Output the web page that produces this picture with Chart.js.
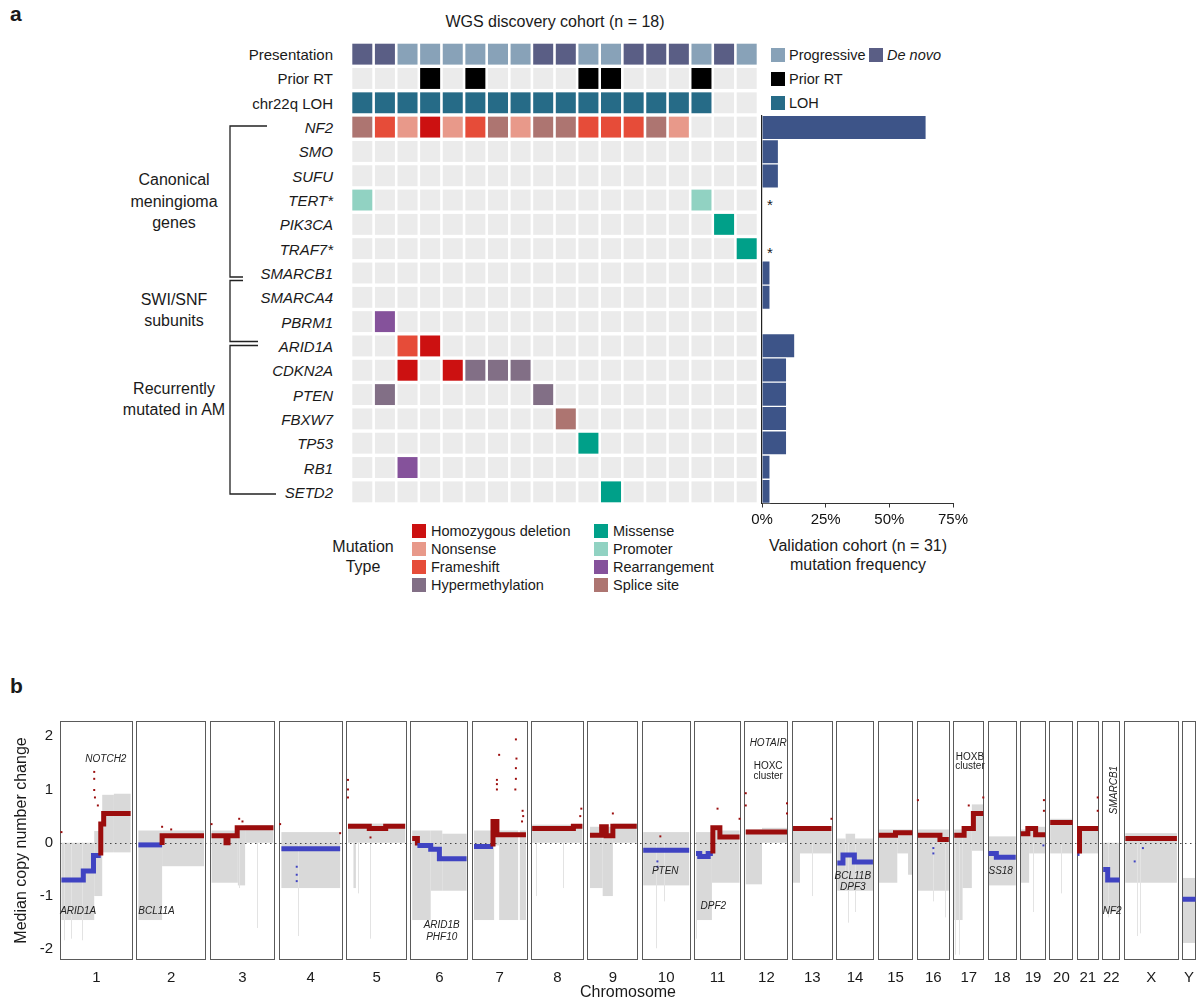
<!DOCTYPE html>
<html>
<head>
<meta charset="utf-8">
<script src="https://cdn.jsdelivr.net/npm/chart.js@4.4.1/dist/chart.umd.min.js"></script>
<style>
  body { margin: 0; background: #fff; font-family: "Liberation Sans", Arial, sans-serif; color: #1a1a1a; }
  #page { position: relative; width: 1200px; height: 998px; overflow: hidden; }
  .t { position: absolute; white-space: nowrap; transform: translate(-50%, -50%); }
  .l { position: absolute; white-space: nowrap; transform: translateY(-50%); }
  .r { position: absolute; white-space: nowrap; transform: translate(-100%, -50%); font-size: 15px; }
  .sw { position: absolute; width: 14px; height: 14px; }
  canvas { position: absolute; }
</style>
</head>
<body>
<div id="page">
  <div class="l" style="left:10px;top:14px;font-size:21px;font-weight:bold">a</div>
  <div class="l" style="left:10px;top:686px;font-size:21px;font-weight:bold">b</div>
  <div class="t" style="left:555px;top:22px;font-size:16px">WGS discovery cohort (n = 18)</div>

  <!-- annotation legend -->
  <div class="sw" style="left:771px;top:48px;background:#88a2b8"></div>
  <div class="l" style="left:789px;top:55px;font-size:14.5px">Progressive</div>
  <div class="sw" style="left:869px;top:48px;background:#5a5e85"></div>
  <div class="l" style="left:887px;top:55px;font-size:14.5px;font-style:italic">De novo</div>
  <div class="sw" style="left:771px;top:72px;background:#000"></div>
  <div class="l" style="left:789px;top:79px;font-size:14.5px">Prior RT</div>
  <div class="sw" style="left:771px;top:96px;background:#266b87"></div>
  <div class="l" style="left:789px;top:103px;font-size:14.5px">LOH</div>

  <!-- gene groups -->
  <div class="t" style="left:174px;top:180px;font-size:16px">Canonical</div>
  <div class="t" style="left:174px;top:202px;font-size:16px">meningioma</div>
  <div class="t" style="left:174px;top:223px;font-size:16px">genes</div>
  <div class="t" style="left:174px;top:300px;font-size:16px">SWI/SNF</div>
  <div class="t" style="left:174px;top:321px;font-size:16px">subunits</div>
  <div class="t" style="left:174px;top:389px;font-size:16px">Recurrently</div>
  <div class="t" style="left:174px;top:410px;font-size:16px">mutated in AM</div>
  <svg style="position:absolute;left:0;top:0" width="400" height="520">
    <polyline points="267,126 230,126 230,277 243,277" fill="none" stroke="#222" stroke-width="1.3"/>
    <polyline points="243,280.5 230,280.5 230,341.5 258,341.5" fill="none" stroke="#222" stroke-width="1.3"/>
    <polyline points="258,345.5 230,345.5 230,494 276,494" fill="none" stroke="#222" stroke-width="1.3"/>
  </svg>
  <div id="rowNames"></div>

  <!-- mutation legend -->
  <div class="t" style="left:363px;top:547px;font-size:16px">Mutation</div>
  <div class="t" style="left:363px;top:567px;font-size:16px">Type</div>
  <div id="mutLegend"></div>

  <div class="t" style="left:770px;top:204px;font-size:15px">*</div>
  <div class="t" style="left:770px;top:252px;font-size:15px">*</div>
  <div class="t" style="left:858px;top:546px;font-size:16px">Validation cohort (n = 31)</div>
  <div class="t" style="left:858px;top:565px;font-size:16px">mutation frequency</div>

  <canvas id="onco" width="407" height="462" style="left:351px;top:42px"></canvas>
  <canvas id="freq" width="240" height="440" style="left:740px;top:100px"></canvas>
  <canvas id="cnv" width="1200" height="302" style="left:0;top:700px"></canvas>
</div>

<script>
const FONT = '"Liberation Sans", Arial, sans-serif';

// ---- panel a data ----
const presentation = ['D','D','P','P','P','P','P','P','D','D','P','P','D','D','D','P','D','P'];
const priorRT = [4, 6, 11, 12, 16];
const loh22q = [1, 2, 3, 4, 5, 6, 7, 8, 9, 10, 11, 12, 13, 14, 15, 16];
const genes = ['NF2','SMO','SUFU','TERT*','PIK3CA','TRAF7*','SMARCB1','SMARCA4','PBRM1',
               'ARID1A','CDKN2A','PTEN','FBXW7','TP53','RB1','SETD2'];
const mutGene = ['NF2','NF2','NF2','NF2','NF2','NF2','NF2','NF2','NF2','NF2','NF2','NF2','NF2','NF2','NF2',
                 'TERT*','TERT*','PIK3CA','TRAF7*','PBRM1','ARID1A','ARID1A',
                 'CDKN2A','CDKN2A','CDKN2A','CDKN2A','CDKN2A','PTEN','PTEN','FBXW7','TP53','RB1','SETD2'];
const mutSample = [1,2,3,4,5,6,7,8,9,10,11,12,13,14,15,
                   1,16,17,18,2,3,4,
                   3,5,6,7,8,2,9,10,11,3,12];
const mutType = ['SS','FS','NS','HD','NS','FS','SS','NS','SS','SS','FS','FS','FS','SS','NS',
                 'PR','PR','MS','MS','RA','FS','HD',
                 'HD','HD','HM','HM','HM','HM','HM','SS','MS','RA','MS'];
const typeNames = ['Homozygous deletion','Nonsense','Frameshift','Hypermethylation',
                   'Missense','Promoter','Rearrangement','Splice site'];
const typeCodes = ['HD','NS','FS','HM','MS','PR','RA','SS'];
const validationFreq = [64.5, 6.5, 6.5, null, 0, null, 3.2, 3.2, 0, 12.9, 9.7, 9.7, 9.7, 9.7, 3.2, 3.2];

const typeColor = { HD:'#cc1111', NS:'#e8998a', FS:'#e64c39', HM:'#826f86',
                    MS:'#00a089', PR:'#91d2c2', RA:'#85529b', SS:'#ad7571' };
const EMPTY = '#ebebeb';

// mutation legend
const legendBox = document.getElementById('mutLegend');
typeNames.forEach((name, i) => {
  const col = i < 4 ? 0 : 1;
  const y = [531, 549, 567, 585][i % 4];
  const sx = col === 0 ? 412 : 594;
  legendBox.insertAdjacentHTML('beforeend',
    `<div class="sw" style="left:${sx}px;top:${y - 7}px;background:${typeColor[typeCodes[i]]}"></div>` +
    `<div class="l" style="left:${sx + 19}px;top:${y}px;font-size:14.5px">${name}</div>`);
});

const rowLabels = ['Presentation', 'Prior RT', 'chr22q LOH'].concat(genes);
const samples = presentation.map((_, i) => 'S' + (i + 1));

function cellColor(row, col) {
  const s = col + 1;
  if (row === 0) return presentation[col] === 'D' ? '#5a5e85' : '#88a2b8';
  if (row === 1) return priorRT.includes(s) ? '#000000' : EMPTY;
  if (row === 2) return loh22q.includes(s) ? '#266b87' : EMPTY;
  const g = genes[row - 3];
  for (let k = 0; k < mutGene.length; k++) {
    if (mutGene[k] === g && mutSample[k] === s) return typeColor[mutType[k]];
  }
  return EMPTY;
}

const onco = new Chart(document.getElementById('onco'), {
  type: 'bar',
  data: {
    labels: samples,
    datasets: rowLabels.map((lab, r) => ({
      label: lab,
      data: samples.map(() => [r + 0.07, r + 0.93]),
      backgroundColor: samples.map((_, c) => cellColor(r, c)),
      borderWidth: 0,
      grouped: false,
      categoryPercentage: 1,
      barPercentage: 0.885
    }))
  },
  options: {
    responsive: false, animation: false,
    layout: { padding: 0 },
    plugins: { legend: { display: false }, tooltip: { enabled: false } },
    scales: {
      x: { display: false, offset: true },
      y: { display: false, min: 0, max: 19, reverse: true }
    }
  }
});

// row names placed on the chart's own y scale
const oncoTop = 42;
const rowBox = document.getElementById('rowNames');
rowLabels.forEach((lab, i) => {
  const py = oncoTop + onco.scales.y.getPixelForValue(i + 0.5);
  const style = i >= 3 ? 'font-style:italic;' : '';
  rowBox.insertAdjacentHTML('beforeend',
    `<div class="r" style="left:333px;top:${py}px;${style}">${lab}</div>`);
});

new Chart(document.getElementById('freq'), {
  type: 'bar',
  data: {
    labels: genes,
    datasets: [{
      data: validationFreq,
      backgroundColor: '#3d5488',
      borderColor: 'rgba(255,255,255,0.85)',
      borderWidth: 1,
      categoryPercentage: 1,
      barPercentage: 1
    }]
  },
  options: {
    indexAxis: 'y', responsive: false, animation: false,
    layout: { padding: { top: 15.3, right: 27, left: 0, bottom: 0 } },
    plugins: { legend: { display: false }, tooltip: { enabled: false } },
    scales: {
      x: {
        min: 0, max: 75,
        ticks: { stepSize: 25, callback: v => v + '%', color: '#111', padding: 3, font: { family: FONT, size: 15 } },
        grid: { display: true, drawOnChartArea: false, drawTicks: true, tickLength: 4, color: '#333' },
        border: { display: true, color: '#333', width: 1 },
        afterFit(s) { s.height = 36.5; }
      },
      y: {
        ticks: { display: false },
        grid: { display: false, drawTicks: false },
        border: { display: true, color: '#222', width: 1.2 },
        afterFit(s) { s.width = 22; }
      }
    }
  }
});

// ---- panel b data ----
const chromNames = ['1','2','3','4','5','6','7','8','9','10','11','12','13','14','15','16','17','18','19','20','21','22','X','Y'];
// relative facet widths
const chromWidth = [73,70,66,64,61,58,56,53,51,49,47,44,41,38,36,33,31,29,26,24,22,18,55,14];
const chromGap = 3.48;

// [chromosome, start, end, median change]; start/end as fraction of the chromosome
const medianSegments = [
  ['1',0.02,0.32,-0.70],['1',0.32,0.46,-0.53],['1',0.46,0.56,-0.24],['1',0.56,0.60,0.35],['1',0.60,0.97,0.55],
  ['2',0.03,0.37,-0.04],['2',0.37,0.97,0.13],
  ['3',0.03,0.25,0.13],['3',0.25,0.28,0.0],['3',0.28,0.42,0.13],['3',0.42,0.97,0.28],
  ['4',0.04,0.96,-0.11],
  ['5',0.03,0.38,0.31],['5',0.38,0.65,0.27],['5',0.65,0.97,0.31],
  ['6',0.03,0.12,0.08],['6',0.12,0.35,-0.05],['6',0.35,0.5,-0.12],['6',0.5,0.65,-0.3],['6',0.65,0.97,-0.3],
  ['7',0.04,0.38,-0.07],['7',0.38,0.45,0.4],['7',0.45,0.97,0.15],
  ['8',0.02,0.8,0.27],['8',0.8,0.97,0.31],
  ['9',0.05,0.28,0.14],['9',0.28,0.37,0.3],['9',0.37,0.5,0.13],['9',0.5,0.97,0.31],
  ['10',0.03,0.97,-0.14],
  ['11',0.04,0.12,-0.2],['11',0.12,0.3,-0.26],['11',0.3,0.4,-0.2],['11',0.4,0.55,0.28],['11',0.55,0.97,0.11],
  ['12',0.03,0.97,0.2],
  ['13',0.03,0.97,0.27],
  ['14',0.03,0.18,-0.38],['14',0.18,0.48,-0.23],['14',0.48,0.97,-0.36],
  ['15',0.03,0.5,0.14],['15',0.5,0.97,0.19],
  ['16',0.03,0.7,0.14],['16',0.7,0.97,0.06],
  ['17',0.03,0.35,0.14],['17',0.35,0.65,0.27],['17',0.65,0.97,0.55],
  ['18',0.03,0.3,-0.2],['18',0.3,0.97,-0.27],
  ['19',0.03,0.3,0.17],['19',0.3,0.6,0.27],['19',0.6,0.97,0.15],
  ['20',0.03,0.97,0.38],
  ['21',0.03,0.12,-0.2],['21',0.12,0.97,0.27],
  ['22',0.05,0.3,-0.5],['22',0.3,0.97,-0.7],
  ['X',0.03,0.97,0.08],
  ['Y',0.03,0.97,-1.06]
];

// [chromosome, start, end, low, high]: range across samples
const rangeBoxes = [
  ['1',0.02,0.47,-1.45,0.0],['1',0.47,0.58,-1.0,0.22],['1',0.58,0.74,-0.18,0.9],['1',0.74,0.97,-0.18,0.92],
  ['2',0.03,0.37,-1.45,0.23],['2',0.37,0.97,-0.44,0.23],
  ['3',0.03,0.43,-0.75,0.23],['3',0.43,0.54,-0.8,0.3],['3',0.54,0.97,0.0,0.33],
  ['4',0.04,0.96,-0.85,0.2],
  ['5',0.03,0.97,0.0,0.36],['5',0.12,0.16,-0.85,0.0],
  ['6',0.03,0.35,-1.45,0.23],['6',0.35,0.55,-0.9,0.23],['6',0.55,0.97,-0.9,0.17],
  ['7',0.04,0.4,-1.45,0.23],['7',0.4,0.49,-0.05,0.23],['7',0.49,0.83,-1.45,0.23],['7',0.86,0.97,-1.45,0.23],
  ['8',0.02,0.97,0.0,0.34],
  ['9',0.05,0.3,-0.85,0.3],['9',0.3,0.5,-1.0,0.3],['9',0.5,0.97,0.0,0.36],
  ['10',0.03,0.97,-0.8,0.2],
  ['11',0.04,0.38,-1.45,0.2],['11',0.38,0.97,-0.75,0.23],
  ['12',0.03,0.4,-0.78,0.25],['12',0.4,0.97,0.0,0.28],
  ['13',0.03,0.2,-0.75,0.28],['13',0.2,0.97,-0.2,0.3],
  ['14',0.03,0.25,-0.9,0.08],['14',0.25,0.5,-0.9,0.17],['14',0.5,0.97,-0.9,0.08],
  ['15',0.03,0.55,-0.75,0.25],['15',0.55,0.85,-0.2,0.25],['15',0.85,0.97,-0.6,0.25],
  ['16',0.03,0.97,-0.9,0.25],
  ['17',0.03,0.3,-1.45,0.25],['17',0.3,0.6,-0.85,0.3],['17',0.6,0.97,-0.15,0.72],
  ['18',0.03,0.97,-0.8,0.12],
  ['19',0.03,0.35,-0.75,0.25],['19',0.35,0.97,-0.2,0.3],
  ['20',0.03,0.97,-0.2,0.45],
  ['21',0.03,0.97,-0.2,0.3],
  ['22',0.03,0.97,-1.3,0.0],
  ['X',0.03,0.97,-0.75,0.18],
  ['Y',0.03,0.97,-1.88,-0.66]
];

// [chromosome, position, lowest value]: single-sample dips below the range
const sampleDips = [
  ['1',0.05,-1.83],['1',0.15,-1.8],['1',0.3,-1.83],['3',0.45,-0.85],['3',0.72,-1.6],
  ['4',0.3,-1.75],['5',0.2,-0.95],['5',0.4,-1.8],['8',0.1,-1.0],['8',0.6,-0.85],
  ['10',0.3,-1.98],['10',0.45,-1.1],['11',0.05,-1.8],['13',0.5,-1.0],['14',0.3,-1.5],
  ['14',0.5,-1.3],['16',0.5,-1.1],['16',0.85,-1.4],['17',0.05,-2.1],['17',0.2,-2.1],
  ['19',0.5,-1.3],['20',0.5,-0.95],['22',0.3,-1.4],['X',0.25,-1.75],['X',0.3,-1.7]
];

// [chromosome, position, value]: focal outlier bins
const outlierBins = [
  ['1',0.47,1.33],['1',0.47,1.2],['1',0.47,0.99],['1',0.48,0.85],['1',0.52,0.7],['1',0.02,0.2],
  ['2',0.37,0.3],['2',0.5,0.25],['3',0.03,0.35],['3',0.45,0.45],['3',0.5,0.4],
  ['4',0.02,0.35],['4',0.28,-0.45],['4',0.28,-0.6],['4',0.28,-0.72],['4',0.96,0.18],
  ['5',0.03,1.18],['5',0.03,1.0],['5',0.03,0.85],['5',0.4,0.1],
  ['7',0.45,1.0],['7',0.45,1.1],['7',0.45,1.18],['7',0.49,1.65],['7',0.78,1.0],['7',0.79,1.2],
  ['7',0.79,1.4],['7',0.8,1.58],['7',0.79,1.94],['7',0.9,0.4],['7',0.91,0.6],['7',0.92,0.5],
  ['8',0.95,0.64],['8',0.93,0.5],['9',0.5,0.55],['10',0.32,-0.35],['10',0.32,-0.45],['10',0.38,0.12],
  ['11',0.5,0.64],['11',0.97,0.45],['12',0.03,0.93],['12',0.03,0.7],['12',0.97,0.74],['12',0.97,0.55],
  ['13',0.97,0.45],['16',0.5,-0.1],['16',0.5,-0.2],['16',0.03,0.8],['17',0.97,0.85],['17',0.5,0.7],
  ['19',0.92,0.8],['19',0.92,0.6],['19',0.9,-0.05],['21',0.95,0.85],['21',0.95,0.6],
  ['X',0.2,-0.35],['X',0.35,-0.1]
];

// [chromosome, position, value, text, italic]
const geneLabels = [
  ['1',0.63,1.57,'NOTCH2',true],['1',0.25,-1.28,'ARID1A',true],['2',0.29,-1.28,'BCL11A',true],
  ['6',0.54,-1.54,'ARID1B',true],['6',0.54,-1.77,'PHF10',true],['10',0.48,-0.54,'PTEN',true],
  ['11',0.41,-1.2,'DPF2',true],['12',0.54,1.86,'HOTAIR',true],['12',0.54,1.44,'HOXC',false],
  ['12',0.54,1.25,'cluster',false],['14',0.44,-0.62,'BCL11B',true],['14',0.44,-0.84,'DPF3',true],
  ['17',0.54,1.61,'HOXB',false],['17',0.54,1.43,'cluster',false],['18',0.45,-0.54,'SS18',true],
  ['22',0.55,-1.28,'NF2',true]
];
const rotatedLabels = [['22',0.64,0.99,'SMARCB1',true]];

const RED = '#9b0d0d', BLUE = '#3f43c2';

const chromStart = [];
let acc = 0;
chromWidth.forEach(w => { chromStart.push(acc); acc += w + chromGap; });
const xTotal = acc - chromGap;
const gx = (c, f) => { const i = chromNames.indexOf(c); return chromStart[i] + f * chromWidth[i]; };

const medianLine = [];
let prevChrom = null;
medianSegments.forEach(([c, s, e, v]) => {
  if (prevChrom !== null && prevChrom !== c) medianLine.push({ x: gx(c, 0), y: null });
  medianLine.push({ x: gx(c, s), y: v }, { x: gx(c, e), y: v });
  prevChrom = c;
});
const outlierPoints = outlierBins.map(([c, p, v]) => ({ x: gx(c, p), y: v }));

const cnvPanels = {
  id: 'cnvPanels',
  beforeDatasetsDraw(chart) {
    const { ctx, chartArea: a, scales: { x, y } } = chart;
    ctx.save();
    ctx.fillStyle = '#d9d9d9';
    rangeBoxes.forEach(([c, s, e, lo, hi]) => {
      const x0 = x.getPixelForValue(gx(c, s)), x1 = x.getPixelForValue(gx(c, e));
      const y0 = y.getPixelForValue(hi), y1 = y.getPixelForValue(lo);
      ctx.fillRect(x0, y0, x1 - x0, y1 - y0);
    });
    ctx.strokeStyle = '#e3e3e3';
    ctx.lineWidth = 1;
    sampleDips.forEach(([c, p, lo]) => {
      const px = Math.round(x.getPixelForValue(gx(c, p))) + 0.5;
      ctx.beginPath();
      ctx.moveTo(px, y.getPixelForValue(0));
      ctx.lineTo(px, y.getPixelForValue(lo));
      ctx.stroke();
    });
    ctx.strokeStyle = '#5a5a5a';
    chromNames.forEach((c, i) => {
      const x0 = Math.round(x.getPixelForValue(chromStart[i])) + 0.5;
      const x1 = Math.round(x.getPixelForValue(chromStart[i] + chromWidth[i])) - 0.5;
      ctx.strokeRect(x0, Math.round(a.top) + 0.5, x1 - x0, Math.round(a.bottom - a.top) - 1);
    });
    const y0 = Math.round(y.getPixelForValue(0)) + 0.5;
    ctx.strokeStyle = '#444';
    ctx.setLineDash([1.5, 3.5]);
    ctx.beginPath();
    ctx.moveTo(a.left, y0);
    ctx.lineTo(a.right, y0);
    ctx.stroke();
    ctx.restore();
  },
  afterDatasetsDraw(chart) {
    const { ctx, scales: { x, y } } = chart;
    ctx.save();
    ctx.fillStyle = '#222';
    ctx.textAlign = 'center';
    ctx.textBaseline = 'middle';
    geneLabels.forEach(([c, p, v, txt, it]) => {
      ctx.font = (it ? 'italic ' : '') + '10px ' + FONT;
      ctx.fillText(txt, x.getPixelForValue(gx(c, p)), y.getPixelForValue(v));
    });
    rotatedLabels.forEach(([c, p, v, txt, it]) => {
      ctx.save();
      ctx.translate(x.getPixelForValue(gx(c, p)), y.getPixelForValue(v));
      ctx.rotate(-Math.PI / 2);
      ctx.font = (it ? 'italic ' : '') + '10px ' + FONT;
      ctx.fillText(txt, 0, 0);
      ctx.restore();
    });
    ctx.restore();
  }
};

new Chart(document.getElementById('cnv'), {
  type: 'line',
  data: {
    datasets: [{
      data: medianLine,
      borderWidth: 5,
      pointRadius: 0,
      spanGaps: false,
      borderColor: RED,
      segment: { borderColor: c => ((c.p0.parsed.y + c.p1.parsed.y) / 2 >= 0 ? RED : BLUE) }
    }, {
      type: 'scatter',
      data: outlierPoints,
      pointStyle: 'rect',
      pointRadius: 1.4,
      borderWidth: 0,
      backgroundColor: c => (c.raw && c.raw.y < 0 ? BLUE : RED)
    }]
  },
  plugins: [cnvPanels],
  options: {
    responsive: false, animation: false,
    layout: { padding: { top: 21, right: 1, left: 0, bottom: 0 } },
    plugins: { legend: { display: false }, tooltip: { enabled: false } },
    scales: {
      x: {
        type: 'linear', min: 0, max: xTotal,
        afterBuildTicks(s) { s.ticks = chromNames.map((_, i) => ({ value: chromStart[i] + chromWidth[i] / 2 })); },
        afterFit(s) { s.height = 42; s.paddingLeft = 0; s.paddingRight = 0; },
        ticks: { autoSkip: false, maxRotation: 0, padding: 9, color: '#1a1a1a',
                 callback: (v, i) => chromNames[i], font: { family: FONT, size: 15 } },
        grid: { display: false, drawTicks: false },
        border: { display: false },
        title: { display: true, text: 'Chromosome', color: '#1a1a1a', padding: 0, font: { family: FONT, size: 16 } }
      },
      y: {
        min: -2.2, max: 2.285,
        afterBuildTicks(s) { s.ticks = [-2, -1, 0, 1, 2].map(v => ({ value: v })); },
        afterFit(s) { s.width = 60; s.paddingTop = 0; s.paddingBottom = 0; },
        ticks: { padding: 7, color: '#1a1a1a', font: { family: FONT, size: 15 } },
        grid: { display: false, drawTicks: false },
        border: { display: false },
        title: { display: true, text: 'Median copy number change', color: '#1a1a1a',
                 padding: { top: 12, bottom: 0 }, font: { family: FONT, size: 16 } }
      }
    }
  }
});
</script>
</body>
</html>
